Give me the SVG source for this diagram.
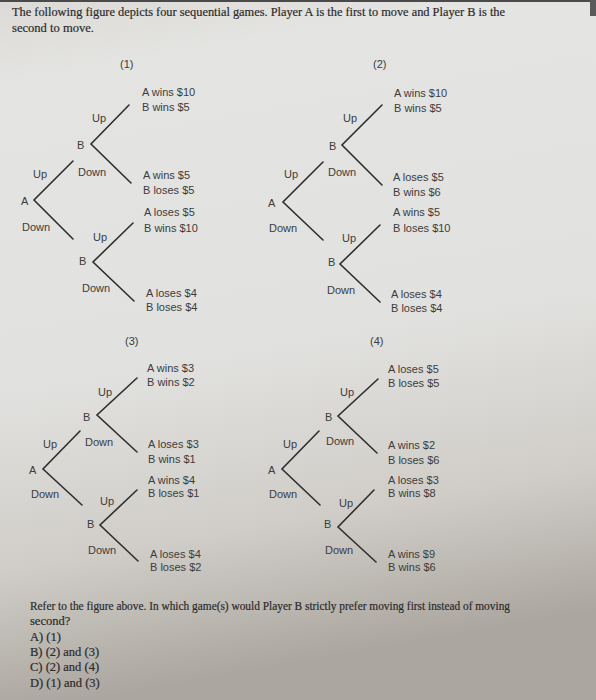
<svg xmlns="http://www.w3.org/2000/svg" width="596" height="700" viewBox="0 0 596 700">
<defs>
<linearGradient id="bg" x1="0" y1="0" x2="0.15" y2="1">
<stop offset="0" stop-color="#dcdad6"/>
<stop offset="0.12" stop-color="#e4e4e2"/>
<stop offset="0.55" stop-color="#e1e1df"/>
<stop offset="0.8" stop-color="#d0cdc8"/>
<stop offset="1" stop-color="#aba69f"/>
</linearGradient>
<style>
.hd{font-family:"Liberation Serif","DejaVu Serif",serif;font-size:13.5px;fill:#2a2a2a;stroke:#2a2a2a;stroke-width:0.2}
.ans{font-size:12.5px}
.t{font-family:"Liberation Sans",Arial,sans-serif;font-size:11px;fill:#3c3c3c}
.e{stroke:#2f2f2f;stroke-width:1.6;fill:none;stroke-linecap:round}
</style>
</defs>
<rect width="596" height="700" fill="url(#bg)"/>
<rect x="0" y="0" width="596" height="2" fill="#4a4a4a"/>
<rect x="590" y="0" width="6" height="16" fill="#5a5a5a"/>

<g id="header">
<text class="hd" x="12" y="16" textLength="493" lengthAdjust="spacingAndGlyphs">The following figure depicts four sequential games. Player A is the first to move and Player B is the</text>
<text class="hd" x="12" y="32" textLength="82" lengthAdjust="spacingAndGlyphs">second to move.</text>
</g>

<g id="titles">
<text class="t" x="120" y="68">(1)</text>
<text class="t" x="373" y="68">(2)</text>
<text class="t" x="125" y="345">(3)</text>
<text class="t" x="370" y="345">(4)</text>
</g>

<g id="connectors">
<!-- game 1 -->
<polyline class="e" points="73,161 34,200 73,239"/>
<polyline class="e" points="129,105 91,144 131,183"/>
<polyline class="e" points="133,223 93,262 134,301"/>
<!-- game 2 -->
<polyline class="e" points="323,162 283,202 323,240"/>
<polyline class="e" points="382,105 342,145 382,185"/>
<polyline class="e" points="380,225 340,264 380,302"/>
<!-- game 3 -->
<polyline class="e" points="80,431 43,469 82,505"/>
<polyline class="e" points="137,378 97,415 137,452"/>
<polyline class="e" points="137,490 100,525 138,561"/>
<!-- game 4 -->
<polyline class="e" points="319,431 282,469 320,505"/>
<polyline class="e" points="378,379 338,416 377,453"/>
<polyline class="e" points="374,490 338,527 376,562"/>
<g id="edge-labels">
<text class="t" x="33" y="178">Up</text>
<text class="t" x="22" y="231">Down</text>
<text class="t" x="92" y="122">Up</text>
<text class="t" x="78" y="176">Down</text>
<text class="t" x="93" y="241">Up</text>
<text class="t" x="82" y="292">Down</text>

<text class="t" x="284" y="178">Up</text>
<text class="t" x="269" y="232">Down</text>
<text class="t" x="343" y="122">Up</text>
<text class="t" x="328" y="176">Down</text>
<text class="t" x="342" y="242">Up</text>
<text class="t" x="327" y="294">Down</text>

<text class="t" x="43" y="448">Up</text>
<text class="t" x="31" y="498">Down</text>
<text class="t" x="98" y="396">Up</text>
<text class="t" x="85" y="446">Down</text>
<text class="t" x="100" y="505">Up</text>
<text class="t" x="88" y="554">Down</text>

<text class="t" x="283" y="448">Up</text>
<text class="t" x="269" y="498">Down</text>
<text class="t" x="340" y="396">Up</text>
<text class="t" x="326" y="445">Down</text>
<text class="t" x="339" y="507">Up</text>
<text class="t" x="325" y="554">Down</text>
</g>
</g>

<!-- Game 1 nodes -->
<g id="g1-A"><text class="t" x="21" y="205">A</text></g>
<g id="g1-B1"><text class="t" x="77" y="149">B</text></g>
<g id="g1-B2"><text class="t" x="79" y="265">B</text></g>
<g id="g1-uu"><text class="t" x="142" y="96">A wins $10</text><text class="t" x="142" y="111">B wins $5</text></g>
<g id="g1-ud"><text class="t" x="143" y="179">A wins $5</text><text class="t" x="143" y="194">B loses $5</text></g>
<g id="g1-du"><text class="t" x="144" y="216">A loses $5</text><text class="t" x="144" y="232">B wins $10</text></g>
<g id="g1-dd"><text class="t" x="146" y="297">A loses $4</text><text class="t" x="146" y="311">B loses $4</text></g>

<!-- Game 2 nodes -->
<g id="g2-A"><text class="t" x="268" y="207">A</text></g>
<g id="g2-B1"><text class="t" x="329" y="150">B</text></g>
<g id="g2-B2"><text class="t" x="328" y="266">B</text></g>
<g id="g2-uu"><text class="t" x="394" y="97">A wins $10</text><text class="t" x="394" y="112">B wins $5</text></g>
<g id="g2-ud"><text class="t" x="393" y="181">A loses $5</text><text class="t" x="393" y="196">B wins $6</text></g>
<g id="g2-du"><text class="t" x="393" y="216">A wins $5</text><text class="t" x="393" y="232">B loses $10</text></g>
<g id="g2-dd"><text class="t" x="391" y="298">A loses $4</text><text class="t" x="391" y="312">B loses $4</text></g>

<!-- Game 3 nodes -->
<g id="g3-A"><text class="t" x="29" y="474">A</text></g>
<g id="g3-B1"><text class="t" x="83" y="421">B</text></g>
<g id="g3-B2"><text class="t" x="87" y="528">B</text></g>
<g id="g3-uu"><text class="t" x="147" y="372">A wins $3</text><text class="t" x="147" y="386">B wins $2</text></g>
<g id="g3-ud"><text class="t" x="148" y="448">A loses $3</text><text class="t" x="148" y="463">B wins $1</text></g>
<g id="g3-du"><text class="t" x="148" y="484">A wins $4</text><text class="t" x="148" y="497">B loses $1</text></g>
<g id="g3-dd"><text class="t" x="150" y="558">A loses $4</text><text class="t" x="150" y="571">B loses $2</text></g>

<!-- Game 4 nodes -->
<g id="g4-A"><text class="t" x="268" y="474">A</text></g>
<g id="g4-B1"><text class="t" x="325" y="421">B</text></g>
<g id="g4-B2"><text class="t" x="324" y="528">B</text></g>
<g id="g4-uu"><text class="t" x="388" y="373">A loses $5</text><text class="t" x="388" y="387">B loses $5</text></g>
<g id="g4-ud"><text class="t" x="388" y="449">A wins $2</text><text class="t" x="388" y="464">B loses $6</text></g>
<g id="g4-du"><text class="t" x="388" y="484">A loses $3</text><text class="t" x="388" y="497">B wins $8</text></g>
<g id="g4-dd"><text class="t" x="388" y="558">A wins $9</text><text class="t" x="388" y="571">B wins $6</text></g>

<g id="question">
<text class="hd ans" x="30" y="610" textLength="480" lengthAdjust="spacingAndGlyphs">Refer to the figure above. In which game(s) would Player B strictly prefer moving first instead of moving</text>
<text class="hd ans" x="30" y="625">second?</text>
<text class="hd ans" x="30" y="641">A) (1)</text>
<text class="hd ans" x="30" y="656">B) (2) and (3)</text>
<text class="hd ans" x="30" y="671">C) (2) and (4)</text>
<text class="hd ans" x="30" y="687">D) (1) and (3)</text>
</g>
</svg>
